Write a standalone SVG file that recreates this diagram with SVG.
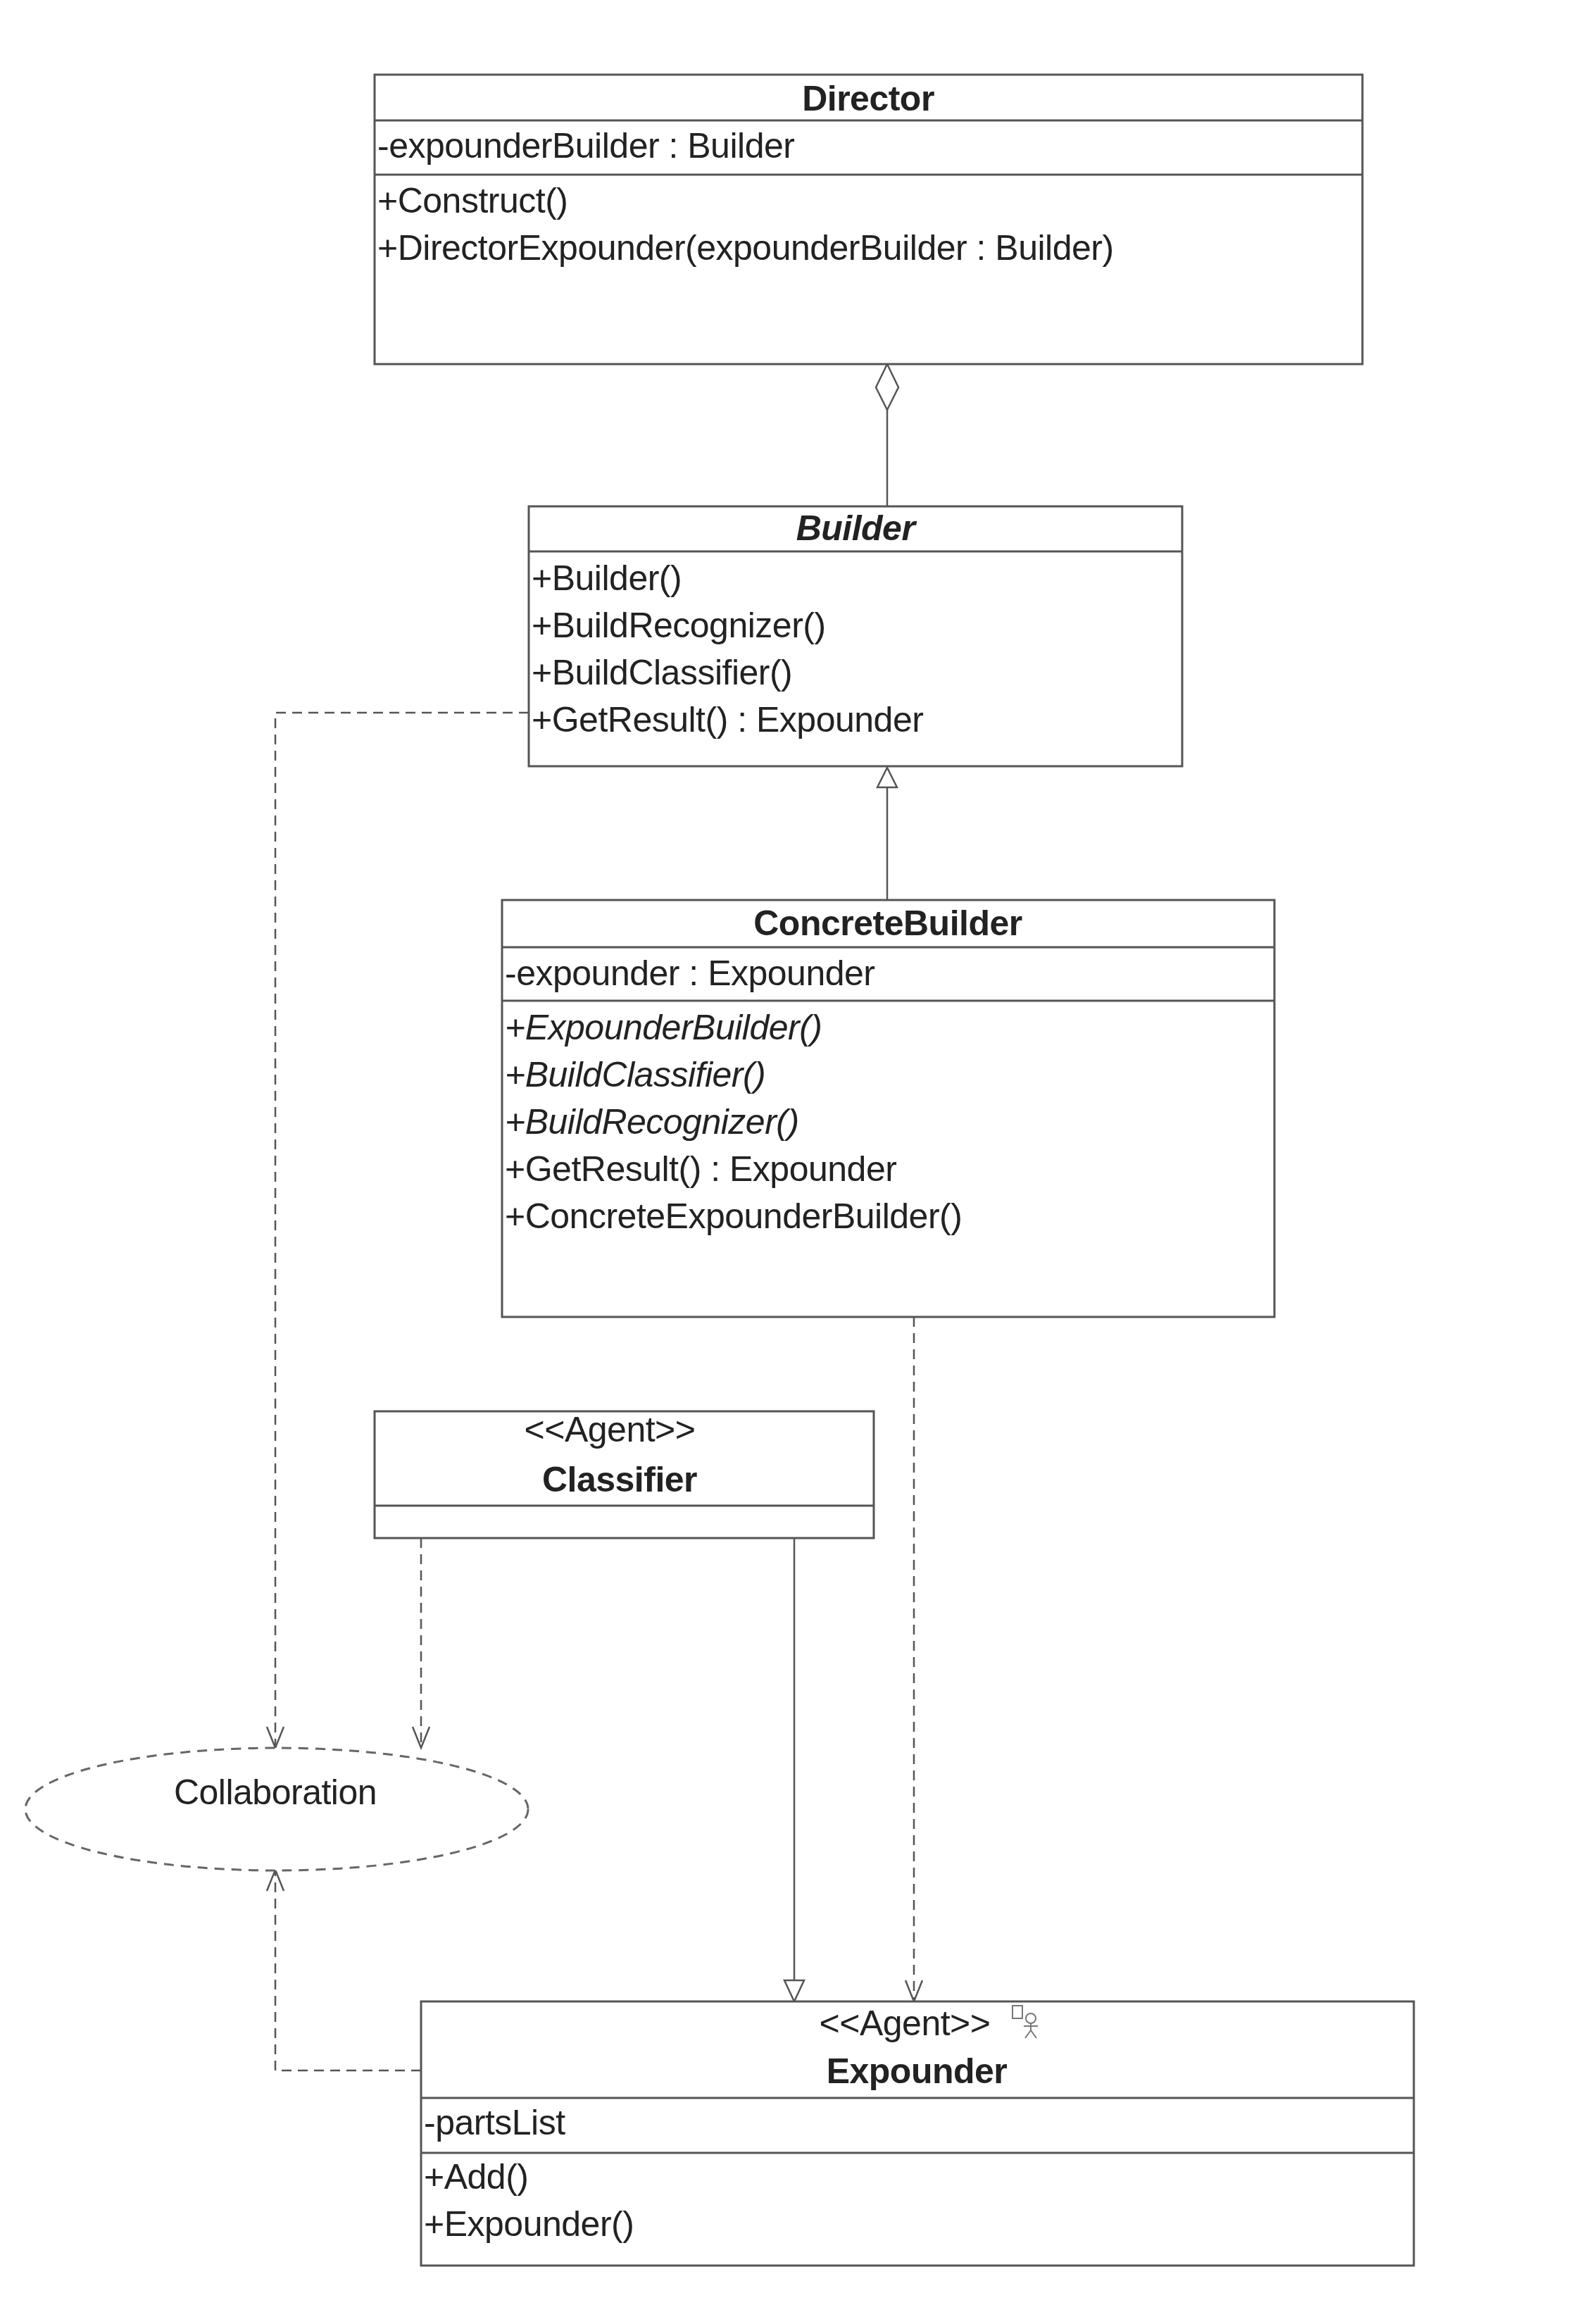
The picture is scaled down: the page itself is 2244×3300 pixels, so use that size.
<svg xmlns="http://www.w3.org/2000/svg" width="2244" height="3300" viewBox="0 0 2244 3300">
<style>
.box{fill:#fff;stroke:#555;stroke-width:3}
.ln{stroke:#555;stroke-width:3;fill:none}
.sl{stroke:#555;stroke-width:2.5;fill:none}
.dl{stroke:#555;stroke-width:2.5;fill:none;stroke-dasharray:14 9}
.ah{stroke:#555;stroke-width:2.5;fill:none}
text{font-family:"Liberation Sans",Arial,sans-serif;font-size:50px;fill:#222;letter-spacing:-0.5px}
.t{font-weight:bold;text-anchor:middle}
.c{text-anchor:middle}
.i{font-style:italic}
</style>
<g id="connectors">
<line class="sl" x1="1260" y1="582" x2="1260" y2="719"/>
<path d="M1260,517 L1276,550 L1260,582 L1244,550 Z" fill="#fff" stroke="#555" stroke-width="2.5"/>
<line class="sl" x1="1260" y1="1118" x2="1260" y2="1278"/>
<path d="M1260,1090 L1274,1118 L1246,1118 Z" fill="#fff" stroke="#555" stroke-width="2.5"/>
<path class="dl" d="M751,1012 H391 V2482"/>
<path class="ah" d="M379,2452 L391,2482 L403,2452"/>
<path class="dl" d="M598,2184 V2482"/>
<path class="ah" d="M586,2452 L598,2482 L610,2452"/>
<line class="sl" x1="1128" y1="2184" x2="1128" y2="2812"/>
<path d="M1128,2842 L1142,2812 L1114,2812 Z" fill="#fff" stroke="#555" stroke-width="2.5"/>
<path class="dl" d="M1298,1870 V2842"/>
<path class="ah" d="M1286,2812 L1298,2842 L1310,2812"/>
<path class="dl" d="M598,2940 H391 V2655"/>
<path class="ah" d="M379,2685 L391,2655 L403,2685"/>
</g>
<g id="director">
<rect class="box" x="532" y="106" width="1403" height="411"/>
<line class="ln" x1="532" y1="171" x2="1935" y2="171"/>
<line class="ln" x1="532" y1="248" x2="1935" y2="248"/>
<text class="t" x="1233" y="157">Director</text>
<text x="536" y="224">-expounderBuilder : Builder</text>
<text x="536" y="302">+Construct()</text>
<text x="536" y="369">+DirectorExpounder(expounderBuilder : Builder)</text>
</g>
<g id="builder">
<rect class="box" x="751" y="719" width="928" height="369"/>
<line class="ln" x1="751" y1="783" x2="1679" y2="783"/>
<text class="t i" x="1215" y="767">Builder</text>
<text x="755" y="838">+Builder()</text>
<text x="755" y="905">+BuildRecognizer()</text>
<text x="755" y="972">+BuildClassifier()</text>
<text x="755" y="1039">+GetResult() : Expounder</text>
</g>
<g id="concretebuilder">
<rect class="box" x="713" y="1278" width="1097" height="592"/>
<line class="ln" x1="713" y1="1345" x2="1810" y2="1345"/>
<line class="ln" x1="713" y1="1421" x2="1810" y2="1421"/>
<text class="t" x="1261" y="1328">ConcreteBuilder</text>
<text x="717" y="1399">-expounder : Expounder</text>
<text class="i" x="717" y="1476">+ExpounderBuilder()</text>
<text class="i" x="717" y="1543">+BuildClassifier()</text>
<text class="i" x="717" y="1610">+BuildRecognizer()</text>
<text x="717" y="1677">+GetResult() : Expounder</text>
<text x="717" y="1744">+ConcreteExpounderBuilder()</text>
</g>
<g id="classifier">
<rect class="box" x="532" y="2004" width="709" height="180"/>
<line class="ln" x1="532" y1="2138" x2="1241" y2="2138"/>
<text class="c" x="866" y="2047">&lt;&lt;Agent&gt;&gt;</text>
<text class="t" x="880" y="2118">Classifier</text>
</g>
<g id="collaboration">
<ellipse cx="393" cy="2569" rx="357" ry="87" fill="#fff" stroke="#666" stroke-width="3" stroke-dasharray="14 10"/>
<text class="c" x="391" y="2562">Collaboration</text>
</g>
<g id="expounder">
<rect class="box" x="598" y="2842" width="1410" height="375"/>
<line class="ln" x1="598" y1="2979" x2="2008" y2="2979"/>
<line class="ln" x1="598" y1="3057" x2="2008" y2="3057"/>
<text class="c" x="1285" y="2890">&lt;&lt;Agent&gt;&gt;</text>
<g fill="none" stroke="#777" stroke-width="2">
<rect x="1438" y="2848" width="14" height="18"/>
<circle cx="1464" cy="2866" r="7"/>
<path d="M1464,2873 V2883 M1454,2877 H1474 M1464,2883 L1456,2894 M1464,2883 L1472,2894"/>
</g>
<text class="t" x="1302" y="2958">Expounder</text>
<text x="602" y="3031">-partsList</text>
<text x="602" y="3108">+Add()</text>
<text x="602" y="3175">+Expounder()</text>
</g>
</svg>
